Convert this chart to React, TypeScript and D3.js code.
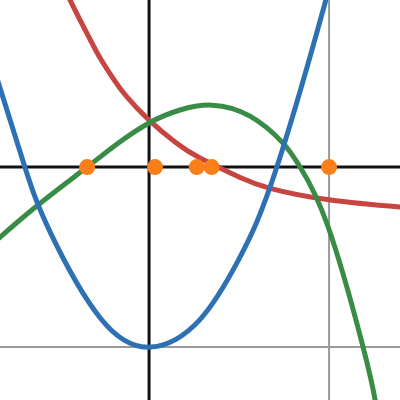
import React, { useRef, useEffect } from 'react';
import * as d3 from 'd3';

type Pt = [number, number];

// visible window in graph units (180px per unit)
const xDomain: Pt = [-0.828, 1.394];
const yDomain: Pt = [-1.294, 0.928];

// reference lines
const guideX = [1];
const guideY = [-1];

// blue parabola
const blueCurve: Pt[] = [
  [-0.85, 0.51], [-0.69, 0.0], [-0.55, -0.36], [-0.27, -0.84], [0.01, -1.0],
  [0.28, -0.85], [0.5, -0.51], [0.71, 0.0], [0.98, 0.92], [1.05, 1.2]
];

// red decaying curve
const redCurve: Pt[] = [
  [-0.5, 1.077], [-0.439, 0.929], [-0.328, 0.71], [-0.272, 0.606], [-0.2, 0.493],
  [-0.122, 0.388], [0, 0.261], [0.144, 0.139], [0.283, 0.05], [0.506, -0.058],
  [0.672, -0.118], [1.0, -0.182], [1.394, -0.222], [1.45, -0.226]
];

// green curve
const greenCurve: Pt[] = [
  [-0.86, -0.415], [-0.828, -0.39], [-0.622, -0.215], [-0.344, 0.0], [-0.178, 0.128],
  [0, 0.245], [0.172, 0.317], [0.35, 0.344], [0.561, 0.283], [0.744, 0.133],
  [0.839, 0.0], [0.994, -0.33], [1.189, -1.0], [1.256, -1.294], [1.294, -1.5]
];

// orange points on the x axis
const dotsX = [-0.344, 0.033, 0.265, 0.348, 1.0];

const W = 400;
const H = 400;

const App: React.FC = () => {
  const svgRef = useRef<SVGSVGElement>(null);

  useEffect(() => {
    if (!svgRef.current) return;
    const svg = d3.select(svgRef.current);
    svg.selectAll('*').remove();

    const x = d3.scaleLinear().domain(xDomain).range([0, W]);
    const y = d3.scaleLinear().domain(yDomain).range([H, 0]);

    svg.append('rect').attr('width', W).attr('height', H).attr('fill', '#fff');

    // gray guide lines
    svg.selectAll('.gx')
      .data(guideX)
      .enter()
      .append('line')
      .attr('x1', d => x(d)).attr('x2', d => x(d))
      .attr('y1', 0).attr('y2', H)
      .attr('stroke', '#999').attr('stroke-width', 2);

    svg.selectAll('.gy')
      .data(guideY)
      .enter()
      .append('line')
      .attr('x1', 0).attr('x2', W)
      .attr('y1', d => y(d)).attr('y2', d => y(d))
      .attr('stroke', '#999').attr('stroke-width', 2);

    // axes
    svg.append('line')
      .attr('x1', x(0)).attr('x2', x(0)).attr('y1', 0).attr('y2', H)
      .attr('stroke', '#111').attr('stroke-width', 3);
    svg.append('line')
      .attr('x1', 0).attr('x2', W).attr('y1', y(0)).attr('y2', y(0))
      .attr('stroke', '#111').attr('stroke-width', 3);

    const line = d3.line<Pt>()
      .x(d => x(d[0]))
      .y(d => y(d[1]))
      .curve(d3.curveNatural);

    const curves: { pts: Pt[]; color: string }[] = [
      { pts: redCurve, color: '#c74440' },
      { pts: greenCurve, color: '#388c46' },
      { pts: blueCurve, color: '#2d70b3' }
    ];

    curves.forEach(c => {
      svg.append('path')
        .attr('d', line(c.pts))
        .attr('fill', 'none')
        .attr('stroke', c.color)
        .attr('stroke-width', 5)
        .attr('stroke-linejoin', 'round');
    });

    svg.selectAll('.dot')
      .data(dotsX)
      .enter()
      .append('circle')
      .attr('cx', d => x(d))
      .attr('cy', y(0))
      .attr('r', 8)
      .attr('fill', '#fa7e19');
  }, []);

  return (
    <svg
      ref={svgRef}
      width={W}
      height={H}
      style={{ position: 'absolute', left: 0, top: 0, display: 'block' }}
    />
  );
};

export default App;
